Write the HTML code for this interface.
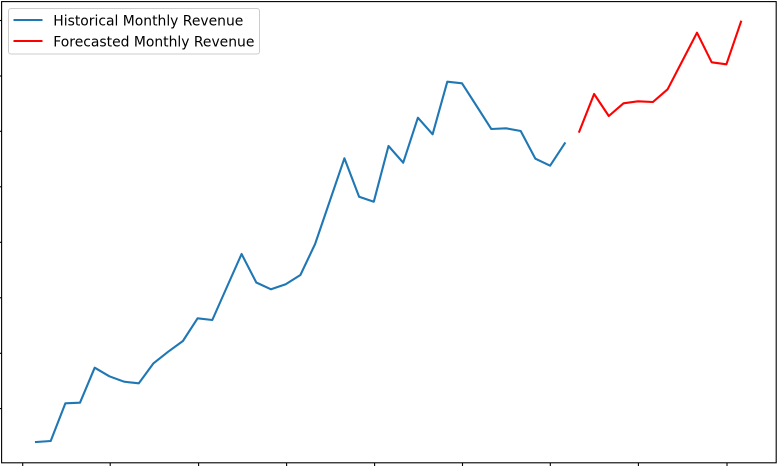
<!DOCTYPE html>
<html>
<head>
<meta charset="utf-8">
<style>
html,body{margin:0;padding:0;background:#fff;}
svg{display:block;}
</style>
</head>
<body>
<svg width="779" height="466" viewBox="0 0 779 466" xmlns="http://www.w3.org/2000/svg">
<rect x="0" y="0" width="779" height="466" fill="#fff"/>
<!-- historical -->
<polyline fill="none" stroke="#1f77b4" stroke-width="2.1" stroke-linejoin="round" stroke-linecap="square"
points="36,442 50.7,441 65.4,403.3 80,402.7 94.7,367.7 109.4,376.3 124.1,381.7 138.8,383.3 153.5,363.3 168.2,351.7 182.9,341 197.6,318.3 212.3,320 226.9,287 241.6,254 256.3,282.5 271,289.3 285.7,284.3 300.4,275 315.1,244 329.8,201 344.4,158.3 359.1,196.7 373.8,201.7 388.5,146 403.2,162.7 417.9,117.7 432.6,134.3 447.3,81.7 462,83.3 476.6,106 491.3,129 506,128.3 520.7,131 535.4,158.7 550.1,165.7 564.8,143.3"/>
<!-- forecast -->
<polyline fill="none" stroke="#ff0000" stroke-width="2.1" stroke-linejoin="round" stroke-linecap="square"
points="579.2,131.7 594.1,94 608.8,116 623.5,103.3 638.2,101.3 652.9,102 667.6,89.3 682.3,61 697,32.7 711.7,62.3 726.4,64.3 741,21.7"/>
<!-- spines -->
<rect x="1.6" y="1.6" width="774.6" height="461.2" fill="none" stroke="#000" stroke-width="1.1"/>
<!-- y ticks -->
<g stroke="#000" stroke-width="1.1">
<line x1="-3" x2="1.6" y1="20.5" y2="20.5"/>
<line x1="-3" x2="1.6" y1="76" y2="76"/>
<line x1="-3" x2="1.6" y1="131.3" y2="131.3"/>
<line x1="-3" x2="1.6" y1="186.8" y2="186.8"/>
<line x1="-3" x2="1.6" y1="242.3" y2="242.3"/>
<line x1="-3" x2="1.6" y1="297.8" y2="297.8"/>
<line x1="-3" x2="1.6" y1="353.3" y2="353.3"/>
<line x1="-3" x2="1.6" y1="408.6" y2="408.6"/>
<!-- x ticks -->
<line y1="462.8" y2="468" x1="22.7" x2="22.7"/>
<line y1="462.8" y2="468" x1="110.2" x2="110.2"/>
<line y1="462.8" y2="468" x1="198.6" x2="198.6"/>
<line y1="462.8" y2="468" x1="286.6" x2="286.6"/>
<line y1="462.8" y2="468" x1="374.6" x2="374.6"/>
<line y1="462.8" y2="468" x1="462.5" x2="462.5"/>
<line y1="462.8" y2="468" x1="550.3" x2="550.3"/>
<line y1="462.8" y2="468" x1="638.4" x2="638.4"/>
<line y1="462.8" y2="468" x1="727" x2="727"/>
</g>
<!-- legend -->
<rect x="8.5" y="8.5" width="251" height="45.5" rx="2.5" ry="2.5" fill="#fff" fill-opacity="0.8" stroke="#cccccc" stroke-width="1"/>
<line x1="13.5" x2="42.5" y1="20" y2="20" stroke="#1f77b4" stroke-width="2.1"/>
<line x1="13.5" x2="42.5" y1="41" y2="41" stroke="#ff0000" stroke-width="2.1"/>
<g font-family="'DejaVu Sans', 'Liberation Sans', sans-serif" font-size="13.9" fill="#000">
<text x="53.3" y="25.3">Historical Monthly Revenue</text>
<text x="53.3" y="46.3">Forecasted Monthly Revenue</text>
</g>
</svg>
</body>
</html>
